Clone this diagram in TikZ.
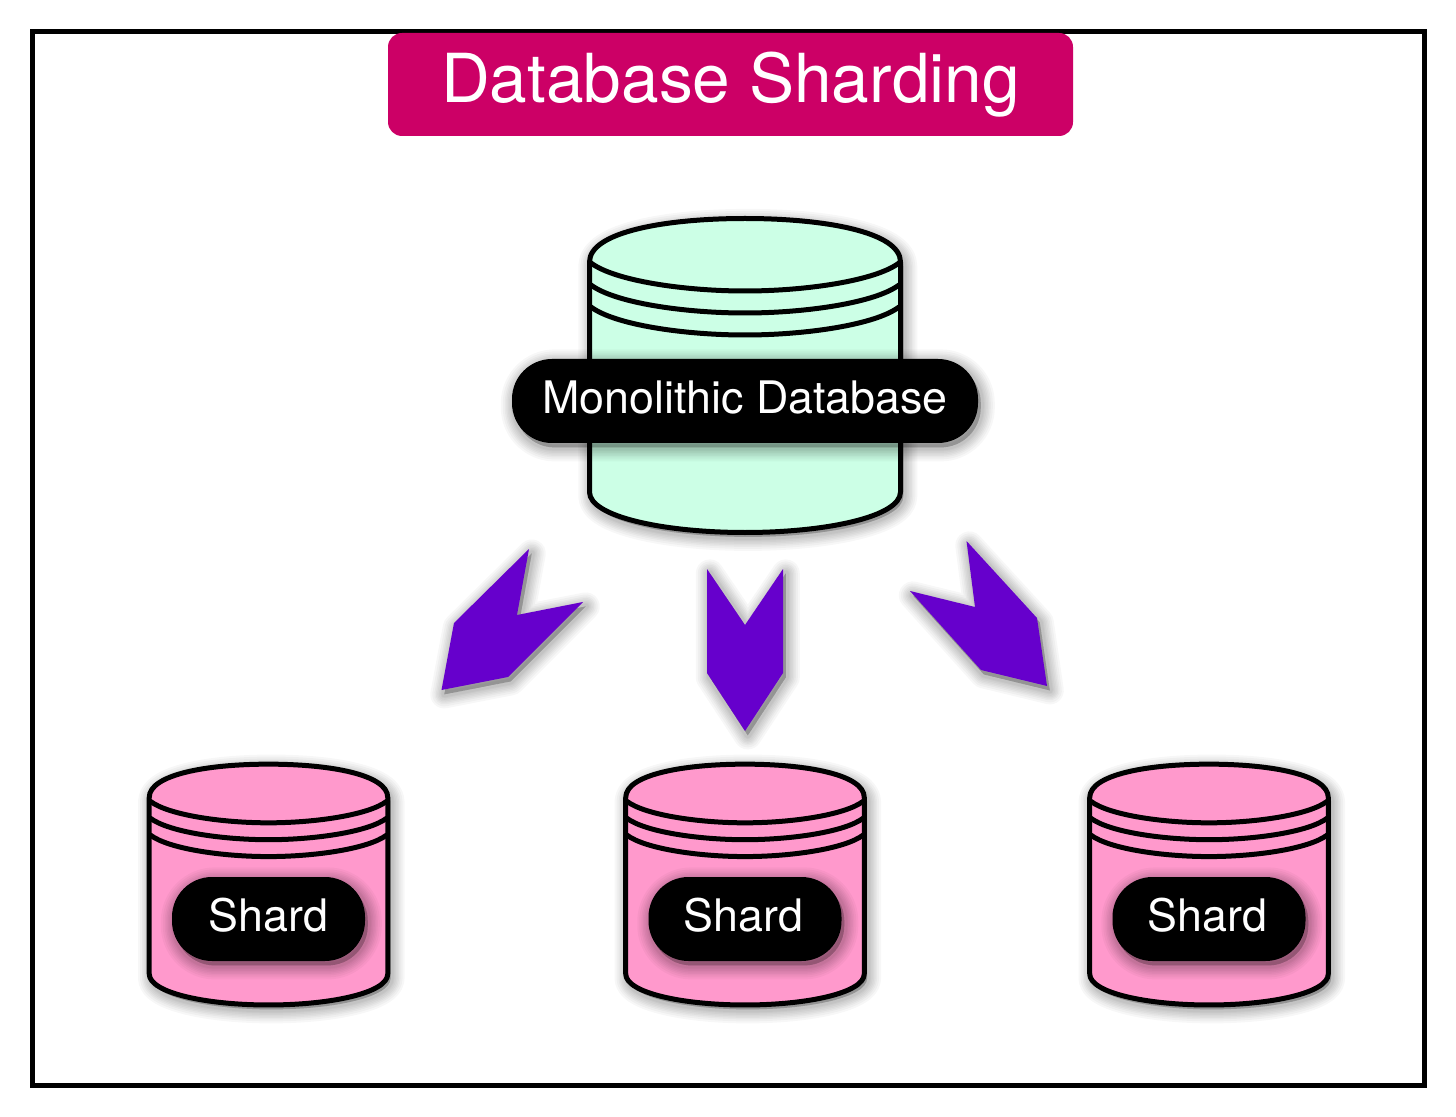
\documentclass[tikz,border=0pt]{standalone}
\usepackage{fontspec}
\setmainfont{TeX Gyre Heros}
\usepackage{tikz}
\usetikzlibrary{positioning,calc,shadows}

\definecolor{titlered}{HTML}{CC0066}
\definecolor{monogreen}{HTML}{CCFFE6}
\definecolor{shardpink}{HTML}{FF99CC}
\definecolor{arrowviolet}{HTML}{6600CC}

\tikzset{
    shadowlayer/.style={general shadow={shadow xshift=1.4pt, shadow yshift=-2.2pt, draw=black, fill=black, line width=#1, line join=round, opacity=0.03}},
    softshadow/.style={shadowlayer=14pt, shadowlayer=12pt, shadowlayer=10pt, shadowlayer=8.5pt, shadowlayer=7pt, shadowlayer=5.5pt, shadowlayer=4pt, shadowlayer=3pt}
}

\newcommand{\dbcyl}[5]{%
    \begin{scope}[shift={(#1,#2)},scale=#3]
        \draw[cyl, fill=#4] (-155.5,45) .. controls (-155.5,15) and (-80,1.5) .. (0,1.5)
            .. controls (80,1.5) and (155.5,15) .. (155.5,45) -- (155.5,275)
            .. controls (155.5,300) and (80,315.5) .. (0,315.5)
            .. controls (-80,315.5) and (-155.5,300) .. (-155.5,275) -- cycle;
        \foreach \rim in {0,22,44} {
            \draw[rimline] (-154,#5-28+\rim) .. controls (-130,#5-10+\rim) and (-60,#5+\rim) .. (0,#5+\rim)
                .. controls (60,#5+\rim) and (130,#5-10+\rim) .. (154,#5-28+\rim);
        }
    \end{scope}
}

\begin{document}
\begin{tikzpicture}[x=0.5pt,y=-0.5pt]
        \tikzstyle{frame}=[draw, line width=2.5pt, fill=white, minimum width=696pt, minimum height=526.5pt, inner sep=0pt]
        \tikzstyle{banner}=[fill=titlered, text=white, rounded corners=7pt, minimum width=342.5pt, minimum height=51.5pt, inner sep=0pt, font=\fontsize{33.8}{40}\selectfont]
        \tikzstyle{cyl}=[line width=2.5pt, line join=round, softshadow]
        \tikzstyle{rimline}=[line width=2.5pt, line cap=round]
        \tikzstyle{pill}=[fill=black, text=white, rounded corners=20pt, inner sep=0pt, minimum height=42pt, font=\fontsize{22.4}{27}\selectfont, softshadow]
        \tikzstyle{chevron}=[fill=arrowviolet, softshadow]

        \useasboundingbox (0,0) rectangle (1456,1117);
        \fill[white] (0,0) rectangle (1456,1117);

        \node[frame]  (page)  at (728,558.5) {};
        \node[banner] (title) at (730.5,84.5) {Database Sharding};

        \dbcyl{745}{217}{1}{monogreen}{74}
        \dbcyl{268.5}{763}{0.767}{shardpink}{78}
        \dbcyl{745}{763}{0.767}{shardpink}{78}
        \dbcyl{1209}{763}{0.767}{shardpink}{78}

        \node[pill, minimum width=233pt, text depth=3.5pt] (mono)   at (745,401) {Monolithic Database};
        \node[pill, minimum width=96.5pt, text depth=4pt] (shardl) at (268.5,919) {Shard};
        \node[pill, minimum width=96.5pt, text depth=4pt] (shardm) at (745,919) {\kern-1.5pt Shard};
        \node[pill, minimum width=96.5pt, text depth=4pt] (shardr) at (1209,919) {\kern-1.5pt Shard};

        \fill[chevron] (529,549) -- (517,615) -- (583,602) -- (508,677) -- (441.5,690) -- (454,623) -- cycle;
        \fill[chevron] (707,569) -- (745,625) -- (783,569) -- (783,673) -- (745,731) -- (707,673) -- cycle;
        \fill[chevron] (966.5,541) -- (975,607) -- (910,591) -- (981,670) -- (1047,686) -- (1037,618) -- cycle;
    \end{tikzpicture}
\end{document}
